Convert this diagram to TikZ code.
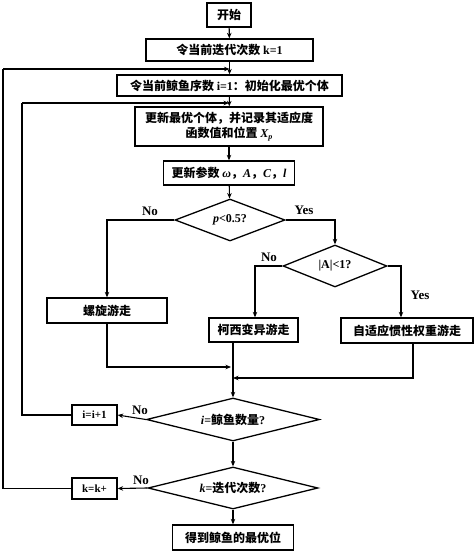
\documentclass[tikz,border=0pt]{standalone}
\usepackage{fontspec}
\setmainfont{Liberation Serif}
\newfontfamily\cjk{Noto Sans CJK SC}
\usetikzlibrary{shapes.geometric,arrows.meta}
\newcommand{\lat}[1]{{\rmfamily\bfseries #1}}
\newcommand{\lit}[1]{{\rmfamily\bfseries\itshape #1}}
\begin{document}
\begin{tikzpicture}[x=1pt,y=-1pt,
  box/.style={draw,line width=1.3pt,rectangle,inner sep=0pt,font=\cjk\bfseries\fontsize{12}{15}\selectfont,align=center},
  dia/.style={draw,line width=1.3pt,diamond,inner sep=0pt,shape aspect=4,font=\cjk\bfseries\fontsize{12}{15}\selectfont},
  conn/.style={line width=1.1pt},
  arr/.style={line width=1.1pt,-{Stealth[length=5.5pt,width=4.5pt]}},
  lbl/.style={font=\rmfamily\bfseries\fontsize{13}{15}\selectfont,inner sep=0pt}]
\useasboundingbox (0,0) rectangle (474,552);
\node[box,minimum width=44pt,minimum height=24pt] (start) at (229,15) {开始};
\node[box,minimum width=167pt,minimum height=22pt] (k1) at (229.5,50) {令当前迭代次数 \lat{k=1}};
\node[box,minimum width=225pt,minimum height=21pt] (i1) at (229.5,85.5) {令当前鲸鱼序数 \lat{i=1}：初始化最优个体};
\node[box,minimum width=188pt,minimum height=39pt] (upd) at (229,126.5) {更新最优个体，并记录其适应度\\函数值和位置 \lit{X}{\rmfamily\bfseries\itshape\fontsize{8}{9}\selectfont\raisebox{-2pt}{p}}};
\node[box,minimum width=131pt,minimum height=24pt] (par) at (229,173) {更新参数 \lit{ω}，\lit{A}，\lit{C}，\lit{l}};
\node[dia,minimum width=110pt,minimum height=42pt] (d1) at (230,220) {\lit{p}\lat{<0.5?}};
\node[dia,minimum width=104pt,minimum height=42pt] (d2) at (335,266) {\lat{|A|<1?}};
\node[box,minimum width=120pt,minimum height=25pt] (spiral) at (107,310.5) {螺旋游走};
\node[box,minimum width=89pt,minimum height=24pt] (cauchy) at (253.5,330) {柯西变异游走};
\node[box,minimum width=132pt,minimum height=25pt] (adapt) at (407,330.5) {自适应惯性权重游走};
\node[dia,minimum width=173pt,minimum height=43pt] (d3) at (233,419.5) {\lit{i}\lat{=}鲸鱼数量\lat{?}};
\node[box,minimum width=45pt,minimum height=20pt] (inci) at (94.5,415) {\lat{\fontsize{11}{13}\selectfont i=i+1}};
\node[dia,minimum width=170pt,minimum height=42pt] (d4) at (233,488) {\lit{k}\lat{=}迭代次数\lat{?}};
\node[box,minimum width=45pt,minimum height=21pt] (inck) at (94.5,488.5) {\lat{\fontsize{11}{13}\selectfont k=k+}};
\node[box,minimum width=121pt,minimum height=25pt] (final) at (233,537.5) {得到鲸鱼的最优位};
% coordinates
\coordinate (l1) at (22,103);
\coordinate (l2) at (3,69);
\coordinate (m1) at (231,367);
\coordinate (m2) at (233,378);
% main flow
\draw[arr] (start) -- (k1);
\draw[arr] (k1) -- (i1);
\draw[arr] (i1) -- (upd);
\draw[arr] (upd) -- (par);
\draw[arr] (par) -- (d1);
\draw[arr] (d1.west) -| (spiral.north);
\draw[arr] (d1.east) -| (d2.north);
\draw[arr] (d2.west) -| ([xshift=1.5pt]cauchy.north);
\draw[arr] (d2.east) -| ([xshift=-6pt]adapt.north);
\node[lbl] (no1) at (150,211) {No};
\node[lbl] (yes1) at (304,210) {Yes};
\node[lbl] (no2) at (269,257) {No};
\node[lbl] (yes2) at (420,295) {Yes};
% merge
\draw[arr] (spiral.south) |- (m1);
\draw[arr] ([xshift=6pt]adapt.south) |- (m2);
\draw[arr] (cauchy.south -| d3.north) -- (d3.north);
% inner loop
\draw[arr] (d3.west) -- (inci.east);
\node[lbl] (no3) at (140,410) {No};
\draw[conn] (inci.west) -| (l1);
\draw[arr] (l1) -- (l1 -| upd.north);
% outer loop
\draw[arr] (d3.south) -- (d4.north);
\draw[arr] (d4.west) -- (inck.east);
\node[lbl] (no4) at (141,480) {No};
\draw[line width=1.6pt] (inck.west) -| (l2);
\draw[arr] (l2) -- (l2 -| i1.north);
\draw[arr] (d4.south) -- (final.north);
\end{tikzpicture}
\end{document}
